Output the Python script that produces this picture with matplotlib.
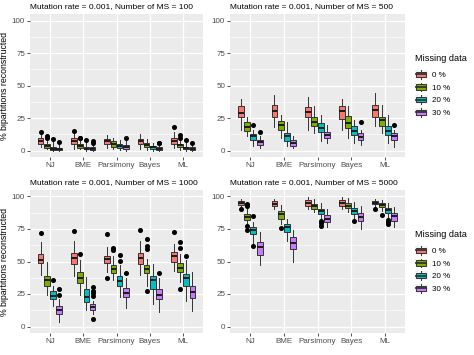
import numpy as np
import matplotlib.pyplot as plt
from matplotlib.patches import Rectangle
from matplotlib.lines import Line2D
from matplotlib.legend_handler import HandlerBase

plt.rcParams['font.family'] = ['Liberation Sans', 'DejaVu Sans']

methods = ['NJ', 'BME', 'Parsimony', 'Bayes', 'ML']
levels = ['0 %', '10 %', '20 %', '30 %']
colors = ['#F8766D', '#7CAE00', '#00BFC4', '#C77CFF']
titles = ['Mutation rate = 0.001, Number of MS = 100',
          'Mutation rate = 0.001, Number of MS = 500',
          'Mutation rate = 0.001, Number of MS = 1000',
          'Mutation rate = 0.001, Number of MS = 5000']

# (whisker low, q1, median, q3, whisker high), method-major, 4 levels each
ms100 = [(3, 5, 7, 9.5, 12), (1, 2, 3.5, 5, 9), (0, 0.5, 1.5, 3, 6.5), (0, 0.5, 1, 2, 4.5),
         (1.5, 5, 7.5, 10, 12.5), (1, 2, 3.5, 5, 8), (0, 1, 1.5, 2.5, 5.5), (0, 0.5, 1.5, 2.5, 5),
         (2, 5, 7, 9, 12), (1, 3, 5, 7, 10), (0.5, 2, 3.5, 5, 8), (0, 1, 2.5, 4.5, 7),
         (1.5, 5, 7, 9, 13), (0.5, 3, 4.5, 6, 9), (0, 1.5, 2.5, 3.5, 6), (0, 0.5, 1.5, 2.5, 5),
         (2, 5, 7.5, 9.5, 14), (0.5, 3, 4, 5, 9), (0, 1, 2, 3, 6), (0, 0.5, 1.5, 2.5, 4.5)]
ms100_out = [[14], [11, 10], [9], [6.5],
             [15], [10, 9.5], [8], [7, 6],
             [], [], [], [10],
             [], [], [], [6, 5.5],
             [18], [12, 9.5], [8], [6]]

ms500 = [(16, 26, 29, 34, 40), (11, 15, 18, 22, 26), (3.5, 8, 11, 13, 16), (2, 4.5, 6.5, 8, 11),
         (18, 26, 30.5, 35, 43), (9.5, 15.5, 19.5, 23, 27.5), (3.5, 7.5, 11, 13.5, 22), (2, 3.5, 6, 8, 11),
         (15.5, 25.5, 30, 33.5, 41.5), (13.5, 18.5, 22, 26, 34.5), (7.5, 14, 17.5, 21, 27.5), (5.5, 9.5, 12, 14.5, 20),
         (15.5, 24.5, 30.5, 34, 40), (9.5, 17, 21.5, 26.5, 34), (5.5, 12, 15, 18.5, 23.5), (4.5, 8, 10.5, 13.5, 16),
         (19, 26, 31, 35, 44.5), (13.5, 18.5, 23.5, 26, 35), (6, 12, 15, 18.5, 27), (3, 8, 11, 13.5, 16)]
ms500_out = [[], [], [20], [14],
             [], [], [], [],
             [], [], [], [],
             [], [], [], [22],
             [], [], [], [20]]

ms1000 = [(40, 48.5, 51.5, 56, 65), (24, 31.5, 35.5, 38.5, 49.5), (16, 21.5, 23.5, 27, 31.5), (3.5, 9.5, 13, 16, 21),
          (39, 48, 53, 56.5, 66), (24, 33.5, 37.5, 42, 51), (13, 19, 23, 28.5, 38), (9.5, 13, 15, 17, 20),
          (42, 49, 52, 54.5, 61), (35.5, 41, 44.5, 47.5, 54.5), (23, 31, 35, 38.5, 47), (14, 22.5, 25.5, 30, 37.5),
          (39.5, 48, 53, 56.5, 66), (31.5, 41, 44.5, 47, 52), (17.5, 29, 35.5, 39, 48), (11.5, 21, 24.5, 29, 37),
          (43, 49.5, 54, 57, 63.5), (34, 42, 45, 49, 56), (20, 31.5, 37, 40.5, 51), (12, 22, 26.5, 31, 42)]
ms1000_out = [[72], [], [35.5], [24, 28.5],
              [73.5], [55.5], [], [23.5, 25.5, 27, 30.5, 6],
              [71.5, 37], [60.5, 59], [55, 50.5], [41],
              [74], [67, 62, 60, 27], [], [41],
              [73], [65, 60.5, 28.5], [54], []]

ms5000 = [(91.8, 93.1, 95, 96.2, 98.2), (79, 82.3, 84.6, 86.2, 90.5), (63.5, 71, 74, 76.5, 80.5), (47, 55, 61, 65, 72.5),
          (90.5, 92.6, 94.4, 96.2, 98.2), (79, 82.8, 86.2, 88.7, 93.3), (65.5, 72.6, 76.4, 79, 82.8), (50, 59.8, 64, 68.7, 74.5),
          (90.5, 93, 95, 97, 99.5), (88, 90.5, 92.6, 94.4, 98), (83, 86.2, 88.7, 90.5, 95), (76.5, 80.3, 82.8, 85.4, 90.5),
          (90.5, 93, 95, 97, 99.5), (88, 91.3, 93, 95, 99), (83, 86.7, 89.2, 91.3, 95.5), (75, 81.5, 84, 87.2, 93),
          (91.8, 94, 95, 96.4, 98.2), (89, 91.8, 93.3, 95, 97.5), (84, 87.2, 89.7, 91.3, 95), (76.5, 81.5, 85, 87.5, 92)]
ms5000_out = [[90], [94.5, 93, 77, 74.5], [85, 62], [],
              [], [75.5], [], [],
              [], [], [81, 79.8, 77], [],
              [], [], [81], [],
              [90], [86], [82, 80.5, 79], []]

panels = [(ms100, ms100_out), (ms500, ms500_out), (ms1000, ms1000_out), (ms5000, ms5000_out)]

W, H = 474, 355
# panel boxes in pixels: left, top, right, bottom
boxes = [(30, 14, 203, 157), (230, 14, 405, 157), (30, 190, 203, 333), (230, 190, 405, 333)]

fig = plt.figure(figsize=(W / 100, H / 100), dpi=100)
dark = '#333333'
offsets = np.array([-0.28125, -0.09375, 0.09375, 0.28125])


class BoxKey(HandlerBase):
    def create_artists(self, legend, orig, xd, yd, w, h, fs, trans):
        bg = Rectangle((-xd, -yd), w, h, facecolor='#F2F2F2', edgecolor='none', transform=trans)
        wh = Line2D([-xd + w / 2] * 2, [-yd, -yd + h], color=dark, lw=0.7, transform=trans)
        bx = Rectangle((-xd + 1.2, -yd + h * 0.2), w - 2.4, h * 0.6, facecolor=orig.get_facecolor(),
                       edgecolor=dark, lw=0.7, transform=trans)
        md = Line2D([-xd + 1.2, -xd + w - 1.2], [-yd + h / 2] * 2, color=dark, lw=1.3, transform=trans)
        return [bg, wh, bx, md]


for i, ((st, outs), (l, t, r, b)) in enumerate(zip(panels, boxes)):
    ax = fig.add_axes([l / W, 1 - b / H, (r - l) / W, (b - t) / H])
    ax.set_facecolor('#EBEBEB')
    for k in range(4):
        stats = []
        pos = []
        for m in range(5):
            lo, q1, med, q3, hi = st[m * 4 + k]
            stats.append(dict(med=med, q1=q1, q3=q3, whislo=lo, whishi=hi,
                              fliers=outs[m * 4 + k]))
            pos.append(m + 1 + offsets[k])
        ax.bxp(stats, positions=pos, widths=0.17, patch_artist=True, showcaps=False,
               boxprops=dict(facecolor=colors[k], edgecolor=dark, lw=0.7),
               whiskerprops=dict(color=dark, lw=0.7),
               medianprops=dict(color='#1A1A1A', lw=1.4),
               flierprops=dict(marker='o', markersize=2.6, markerfacecolor='black',
                               markeredgecolor='black', lw=0),
               manage_ticks=False, zorder=3)
    ax.set_xlim(0.4, 5.6)
    ax.set_ylim(-5, 105)
    ax.set_xticks(range(1, 6))
    ax.set_xticklabels(methods)
    ax.set_yticks([0, 25, 50, 75, 100])
    ax.set_yticks([12.5, 37.5, 62.5, 87.5], minor=True)
    ax.grid(True, which='major', color='white', lw=0.9, zorder=0)
    ax.grid(True, which='minor', axis='y', color='white', lw=0.45, zorder=0)
    ax.set_axisbelow(True)
    for s in ax.spines.values():
        s.set_visible(False)
    ax.tick_params(which='major', length=2, width=0.6, color=dark, labelsize=5.8,
                   labelcolor='#4D4D4D', pad=1.5)
    ax.tick_params(which='minor', length=0)
    ax.set_title(titles[i], fontsize=6.0, loc='left', pad=4, color='black')
    if i % 2 == 0:
        ax.set_ylabel('% bipartitions reconstructed', fontsize=6.3, labelpad=2)
    else:
        handles = [Rectangle((0, 0), 1, 1, facecolor=c) for c in colors]
        leg = ax.legend(handles, levels, handler_map={Rectangle: BoxKey()},
                        title='Missing data', loc='center left',
                        bbox_to_anchor=(1.055, 0.5), frameon=False, fontsize=5.8,
                        title_fontsize=6.6, handlelength=1.6, handleheight=1.3,
                        handletextpad=0.6, labelspacing=0.45, borderaxespad=0,
                        borderpad=0)
        leg._legend_box.align = 'left'
        leg._legend_box.sep = 5

fig.savefig('out.png', dpi=100)
